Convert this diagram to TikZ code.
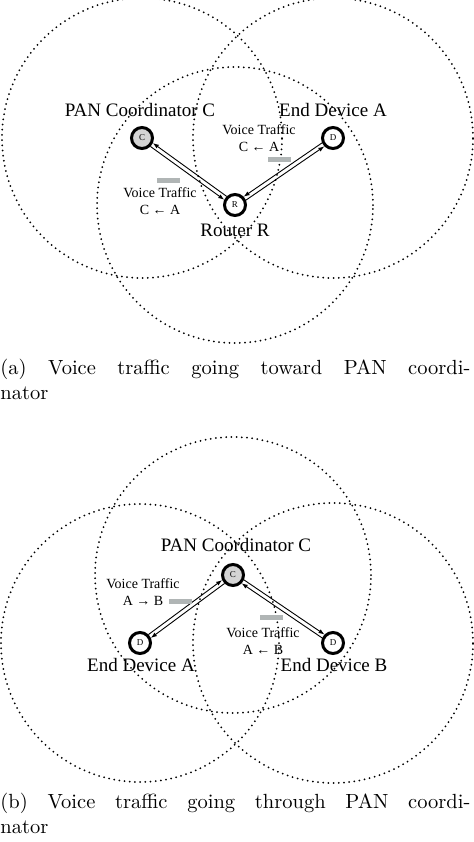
\documentclass[tikz,border=0pt]{standalone}
\usepackage{fontspec}
\newfontfamily\labelfont{Liberation Serif}
\usetikzlibrary{arrows.meta}
\definecolor{barGray}{RGB}{176,181,181}
\definecolor{coordGray}{RGB}{212,212,212}
\newcommand{\capfont}{\fontsize{10.25}{12.75}\selectfont}
\newcommand{\capline}[1]{\hbox to 235pt{\spaceskip=0pt\xspaceskip=0pt\relax #1}}
\tikzset{
  device/.style={circle, draw, line width=1.5pt, minimum size=10.5pt, inner sep=0pt, fill=white, font=\labelfont\fontsize{4.5}{4.5}\selectfont},
  coord/.style={device, fill=coordGray},
  radiorange/.style={line width=1pt, dash pattern=on 0pt off 2.6pt, line cap=round},
  flow/.style={line width=0.45pt, -{Latex[length=3pt,width=2.2pt]}},
  devname/.style={font=\labelfont\fontsize{9.5}{11}\selectfont, inner sep=0pt},
  traffic/.style={font=\labelfont\fontsize{7}{8.5}\selectfont, align=center, inner sep=0pt},
  trafficbar/.style={fill=barGray, minimum width=11.5pt, minimum height=2.5pt, inner sep=0pt},
  subcap/.style={text width=235pt, align=left, inner sep=0pt, anchor=base west, font=\capfont}
}
\begin{document}
\begin{tikzpicture}[x=0.5pt, y=-0.5pt]
	\useasboundingbox (0,0) rectangle (474,842);
	% (a) toward the coordinator
	\node[coord] (pc) at (142,138) {C};
	\node[device] (ea) at (333,138) {D};
	\node[device] (rr) at (235,205) {R};
	\foreach \n/\r in {pc/70, ea/70, rr/69}
	{
		\draw[radiorange] (\n.center) circle (\r pt);
	}
	\draw[flow] (rr.134.2) -- (pc.-25.8);
	\draw[flow] (pc.-45.8) -- (rr.154.2);
	\draw[flow] (ea.204.4) -- (rr.44.4);
	\draw[flow] (rr.24.4) -- (ea.224.4);
	\node[devname] (pcname) at (140,110) {PAN Coordinator C};
	\node[devname] (eaname) at (333,110) {End Device A};
	\node[devname] (rrname) at (235,230) {Router R};
	\node[trafficbar] (barl) at (168.5,180) {};
	\node[trafficbar] (barr) at (279,159.5) {};
	\node[traffic] (vtl) at (160,201) {Voice Traffic\\C ← A};
	\node[traffic] (vtr) at (259,138) {Voice Traffic\\C ← A};
	\node[subcap] (capa) at (0,374) {\capline{(a) Voice traffic going toward PAN coordi-}\\nator};
	% (b) through the coordinator
	\node[coord] (pc2) at (233,575) {C};
	\node[device] (da) at (140,643) {D};
	\node[device] (db) at (333,643) {D};
	\foreach \n/\r in {pc2/69, da/69.5, db/70}
	{
		\draw[radiorange] (\n.center) circle (\r pt);
	}
	\draw[flow] (da.45.9) -- (pc2.205.9);
	\draw[flow] (pc2.225.9) -- (da.25.9);
	\draw[flow] (db.155.5) -- (pc2.-44.5);
	\draw[flow] (pc2.-24.5) -- (db.135.5);
	\node[devname] (pc2name) at (236,545) {PAN Coordinator C};
	\node[devname] (daname) at (141,665) {End Device A};
	\node[devname] (dbname) at (334,665) {End Device B};
	\node[trafficbar] (barl2) at (180.5,601) {};
	\node[trafficbar] (barr2) at (271.5,617) {};
	\node[traffic] (vtl2) at (143,592) {Voice Traffic\\A → B};
	\node[traffic] (vtr2) at (263,641) {Voice Traffic\\A ← B};
	\node[subcap] (capb) at (0,808) {\capline{(b) Voice traffic going through PAN coordi-}\\nator};
\end{tikzpicture}
\end{document}
